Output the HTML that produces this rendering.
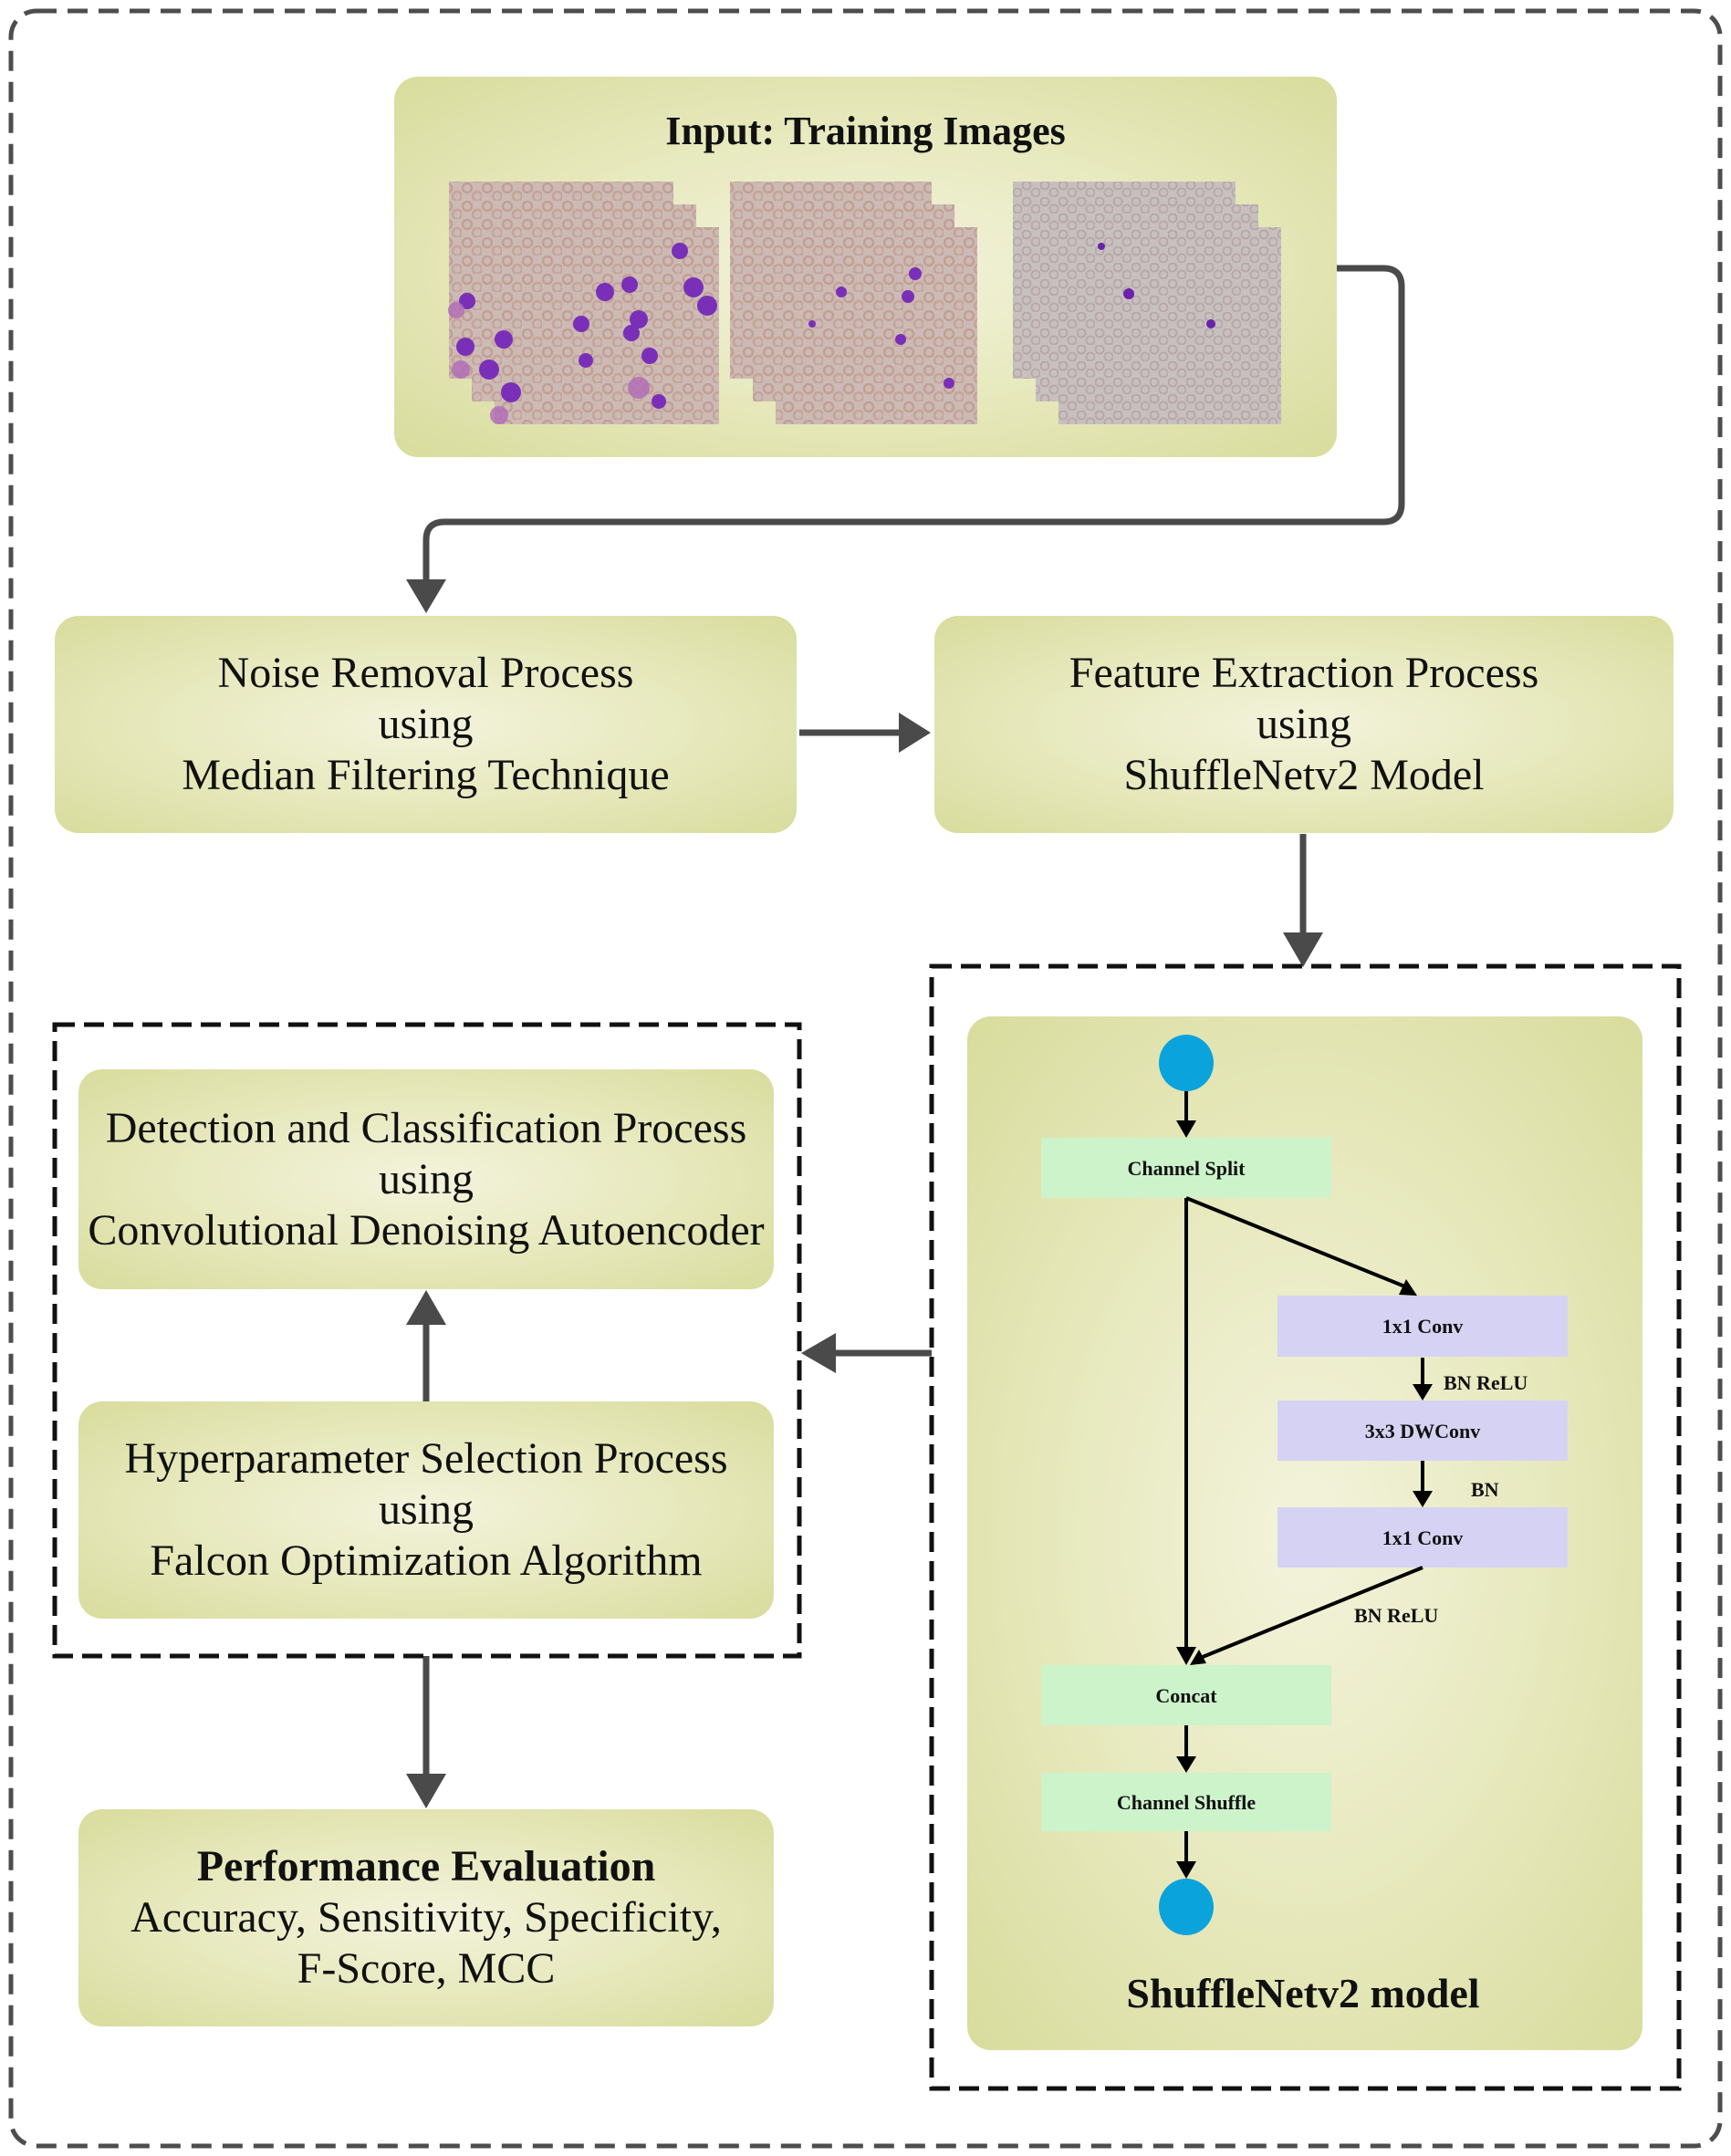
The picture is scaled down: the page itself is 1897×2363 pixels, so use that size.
<!DOCTYPE html>
<html><head><meta charset="utf-8"><style>
html,body{margin:0;padding:0;background:#fff;}
body{width:1897px;height:2363px;position:relative;overflow:hidden;font-family:"Liberation Serif",serif;}
.box{position:absolute;border-radius:26px;background:radial-gradient(ellipse at center,#f3f3dc 0%,#e6e8bb 55%,#d8dc9c 100%);display:flex;flex-direction:column;align-items:center;justify-content:center;text-align:center;color:#111;font-size:48px;line-height:56px;}
.b{font-weight:bold;}
</style></head><body>
<svg width="1897" height="2363" style="position:absolute;left:0;top:0">
<defs>
<pattern id="rbc" width="22" height="20" patternUnits="userSpaceOnUse"><rect width="22" height="20" fill="#cbbbb4"/><circle cx="6" cy="6" r="5" fill="none" stroke="#c49e96" stroke-width="2.5"/><circle cx="17" cy="15" r="5" fill="none" stroke="#c7a39b" stroke-width="2.5"/></pattern>
<pattern id="rbc3" width="20" height="18" patternUnits="userSpaceOnUse"><rect width="20" height="18" fill="#c7c0bf"/><circle cx="5" cy="5" r="4.5" fill="none" stroke="#b7a7a8" stroke-width="2"/><circle cx="15" cy="13" r="4.5" fill="none" stroke="#b9a9aa" stroke-width="2"/></pattern>
</defs>
<rect x="12" y="12" width="1873" height="2340" rx="28" fill="none" stroke="#4d4d4d" stroke-width="5" stroke-dasharray="22,12"/>
</svg>

<div class="box" style="left:432px;top:84px;width:1033px;height:417px;justify-content:flex-start;">
<div class="b" style="margin-top:32px;font-size:44px;">Input: Training Images</div></div>

<svg width="1897" height="2363" style="position:absolute;left:0;top:0">
<g>
<rect x="492" y="199" width="246" height="216" fill="url(#rbc)"/>
<rect x="517" y="224" width="246" height="216" fill="url(#rbc)"/>
<rect x="542" y="249" width="246" height="216" fill="url(#rbc)"/>
<g fill="#7a2fb8"><circle cx="512" cy="330" r="9"/><circle cx="510" cy="380" r="10"/><circle cx="536" cy="405" r="11"/><circle cx="560" cy="430" r="11"/><circle cx="637" cy="355" r="9"/><circle cx="663" cy="320" r="10"/><circle cx="690" cy="312" r="9"/><circle cx="700" cy="350" r="10"/><circle cx="692" cy="365" r="9"/><circle cx="712" cy="390" r="9"/><circle cx="760" cy="315" r="11"/><circle cx="775" cy="335" r="11"/><circle cx="745" cy="275" r="9"/><circle cx="642" cy="395" r="8"/><circle cx="722" cy="440" r="8"/><circle cx="552" cy="372" r="10"/></g>
<g fill="#b06ab8" opacity=".8"><circle cx="500" cy="340" r="9"/><circle cx="505" cy="405" r="10"/><circle cx="700" cy="425" r="12"/><circle cx="547" cy="455" r="10"/></g>
</g>
<g>
<rect x="800" y="199" width="221" height="216" fill="url(#rbc)"/>
<rect x="825" y="224" width="221" height="216" fill="url(#rbc)"/>
<rect x="850" y="249" width="221" height="216" fill="url(#rbc)"/>
<g fill="#7a2fb8"><circle cx="922" cy="320" r="6"/><circle cx="995" cy="325" r="7"/><circle cx="1003" cy="300" r="7"/><circle cx="987" cy="372" r="6"/><circle cx="1040" cy="420" r="6"/><circle cx="890" cy="355" r="4"/></g>
</g>
<g>
<rect x="1110" y="199" width="244" height="216" fill="url(#rbc3)"/>
<rect x="1135" y="224" width="244" height="216" fill="url(#rbc3)"/>
<rect x="1160" y="249" width="244" height="216" fill="url(#rbc3)"/>
<g fill="#6a22aa"><circle cx="1237" cy="322" r="6"/><circle cx="1327" cy="355" r="5"/><circle cx="1207" cy="270" r="4"/></g>
</g>

<g stroke="#4a4a4a" stroke-width="7" fill="none">
<path d="M1465,294 H1516 Q1536,294 1536,314 V552 Q1536,572 1516,572 H487 Q467,572 467,592 V640"/>
<line x1="876" y1="803" x2="990" y2="803"/>
<line x1="1428" y1="914" x2="1428" y2="1028"/>
<line x1="467" y1="1536" x2="467" y2="1448"/>
<line x1="1021" y1="1483" x2="912" y2="1483"/>
<line x1="467" y1="1815" x2="467" y2="1948"/>
</g>
<g fill="#4a4a4a">
<path d="M445,635 L489,635 L467,672z"/>
<path d="M985,781 L985,825 L1020,803z"/>
<path d="M1406,1022 L1450,1022 L1428,1060z"/>
<path d="M445,1452 L489,1452 L467,1414z"/>
<path d="M916,1461 L916,1505 L878,1483z"/>
<path d="M445,1944 L489,1944 L467,1982z"/>
</g>
<rect x="1021" y="1059" width="819" height="1230" fill="none" stroke="#111" stroke-width="5" stroke-dasharray="22,10"/>
<rect x="60" y="1123" width="816" height="692" fill="none" stroke="#111" stroke-width="5" stroke-dasharray="22,10"/>
</svg>

<div class="box" style="left:60px;top:675px;width:813px;height:238px;">
<div>Noise Removal Process</div><div>using</div><div>Median Filtering Technique</div></div>
<div class="box" style="left:1024px;top:675px;width:810px;height:238px;">
<div>Feature Extraction Process</div><div>using</div><div>ShuffleNetv2 Model</div></div>
<div class="box" style="left:86px;top:1172px;width:762px;height:241px;">
<div>Detection and Classification Process</div><div>using</div><div>Convolutional Denoising Autoencoder</div></div>
<div class="box" style="left:86px;top:1536px;width:762px;height:238px;">
<div>Hyperparameter Selection Process</div><div>using</div><div>Falcon Optimization Algorithm</div></div>
<div class="box" style="left:86px;top:1983px;width:762px;height:238px;">
<div class="b">Performance Evaluation</div><div>Accuracy, Sensitivity, Specificity,</div><div>F-Score, MCC</div></div>

<div class="box" style="left:1060px;top:1114px;width:740px;height:1133px;"></div>

<svg width="1897" height="2363" style="position:absolute;left:0;top:0" font-family="Liberation Serif, serif" font-weight="bold">
<ellipse cx="1300" cy="1165" rx="30" ry="31" fill="#0aa3dc"/>
<ellipse cx="1300" cy="2090" rx="30" ry="31" fill="#0aa3dc"/>
<rect x="1141" y="1247" width="318" height="66" fill="#cdf3cb"/>
<rect x="1141" y="1825" width="318" height="66" fill="#cdf3cb"/>
<rect x="1141" y="1943" width="318" height="64" fill="#cdf3cb"/>
<rect x="1400" y="1420" width="318" height="67" fill="#d6d2f3"/>
<rect x="1400" y="1535" width="318" height="66" fill="#d6d2f3"/>
<rect x="1400" y="1652" width="318" height="66" fill="#d6d2f3"/>
<g stroke="#000" stroke-width="4" fill="none">
<line x1="1300" y1="1196" x2="1300" y2="1232"/>
<line x1="1300" y1="1313" x2="1300" y2="1808"/>
<line x1="1300" y1="1313" x2="1542" y2="1411"/>
<line x1="1559" y1="1488" x2="1559" y2="1520"/>
<line x1="1559" y1="1601" x2="1559" y2="1637"/>
<line x1="1559" y1="1718" x2="1318" y2="1816"/>
<line x1="1300" y1="1891" x2="1300" y2="1928"/>
<line x1="1300" y1="2007" x2="1300" y2="2043"/>
</g>
<g fill="#000">
<path d="M1289,1228 L1311,1228 L1300,1247z"/>
<path d="M1289,1805 L1311,1805 L1300,1825z"/>
<path d="M1548,1517 L1570,1517 L1559,1535z"/>
<path d="M1548,1634 L1570,1634 L1559,1652z"/>
<path d="M1289,1925 L1311,1925 L1300,1943z"/>
<path d="M1289,2040 L1311,2040 L1300,2059z"/>
<path d="M1553,1420 L1533,1419 L1541,1402z"/>
<path d="M1304,1825 L1314,1808 L1322,1823z"/>
</g>
<g font-size="22" text-anchor="middle" fill="#111">
<text x="1300" y="1288">Channel Split</text>
<text x="1300" y="1866">Concat</text>
<text x="1300" y="1983">Channel Shuffle</text>
<text x="1559" y="1461">1x1 Conv</text>
<text x="1559" y="1576">3x3 DWConv</text>
<text x="1559" y="1693">1x1 Conv</text>
</g>
<g font-size="22" fill="#111">
<text x="1582" y="1523">BN ReLU</text>
<text x="1612" y="1640">BN</text>
<text x="1484" y="1778">BN ReLU</text>
</g>
<text x="1428" y="2200" font-size="46" text-anchor="middle" fill="#111">ShuffleNetv2 model</text>
</svg>
</body></html>
